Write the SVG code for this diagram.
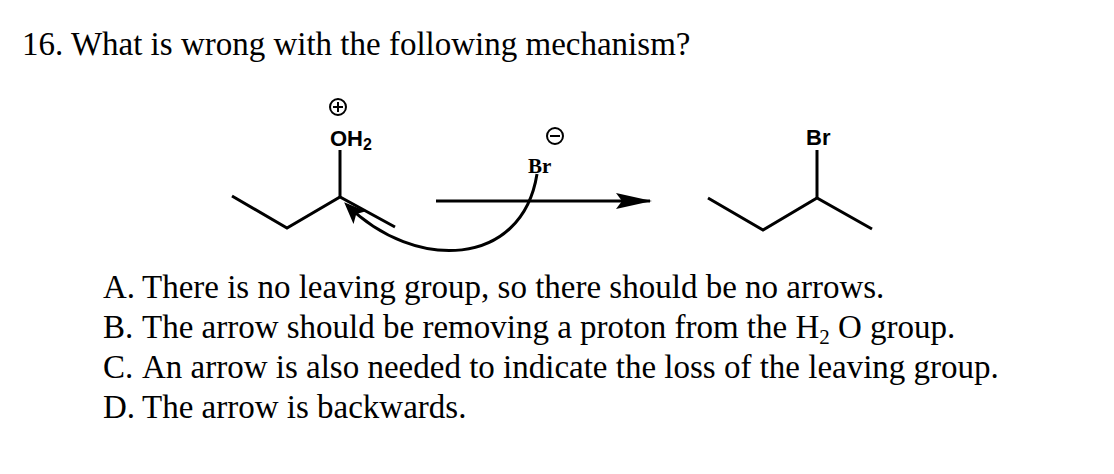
<svg xmlns="http://www.w3.org/2000/svg" width="1114" height="474" viewBox="0 0 1114 474">
<style>
.t{font-family:"Liberation Serif",serif;font-size:33px;fill:#000}
.a{font-family:"Liberation Sans",sans-serif;font-weight:bold;font-size:22px;fill:#000}
.b{fill:none;stroke:#000;stroke-width:3}
</style>
<defs><marker id="h" markerWidth="22" markerHeight="18" refX="18" refY="9" orient="auto" markerUnits="userSpaceOnUse"><path d="M0,0 L22,9 L0,18 L5,9z" fill="#000"/></marker>
<marker id="ah" markerWidth="36" markerHeight="16" refX="34" refY="8" orient="auto" markerUnits="userSpaceOnUse"><path d="M0,0 L36,8 L0,16 L6,8z" fill="#000"/></marker></defs>
<rect width="1114" height="474" fill="#fff"/>
<text class="t" x="22" y="55">16. What is wrong with the following mechanism?</text>
<g id="reactant">
<polyline class="b" points="232,196 287,228 340,197 395,227"/>
<line class="b" x1="340" y1="197" x2="340" y2="150"/>
<text class="a" x="330" y="146">OH<tspan font-size="16" dy="4">2</tspan></text>
<circle cx="338" cy="107" r="8" fill="none" stroke="#000" stroke-width="2"/>
<path d="M333,107h10M338,102v10" stroke="#000" stroke-width="2"/>
</g>
<g id="bromide">
<text x="528" y="173" font-family="Liberation Serif,serif" font-weight="bold" font-size="21">Br</text>
<circle cx="555" cy="136" r="8" fill="none" stroke="#000" stroke-width="2"/>
<path d="M550,136h10" stroke="#000" stroke-width="2"/>
</g>
<g id="product">
<polyline class="b" points="708,198 763,230 817,198 872,229"/>
<line class="b" x1="817" y1="198" x2="817" y2="150"/>
<text class="a" x="806" y="145">Br</text>
</g>
<g id="connectors">
<line class="b" x1="436" y1="201" x2="650" y2="201" marker-end="url(#ah)"/>
<path class="b" d="M537,174 C522,268 415,272 347,205" marker-end="url(#h)"/>
</g>
<text class="t" x="103" y="298">A.</text><text class="t" x="142" y="298">There is no leaving group, so there should be no arrows.</text>
<text class="t" x="103" y="338">B.</text><text class="t" x="142" y="338">The arrow should be removing a proton from the H<tspan font-size="21" dy="6">2</tspan><tspan dy="-6"> O group.</tspan></text>
<text class="t" x="103" y="378">C.</text><text class="t" x="142" y="378">An arrow is also needed to indicate the loss of the leaving group.</text>
<text class="t" x="103" y="418">D.</text><text class="t" x="142" y="418">The arrow is backwards.</text>
</svg>
